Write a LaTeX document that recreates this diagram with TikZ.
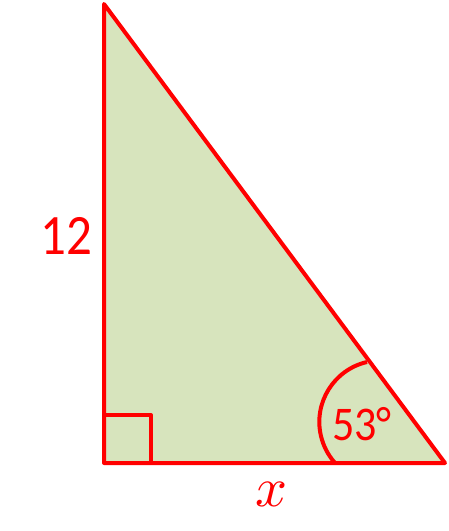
\documentclass[tikz,border=0pt]{standalone}
\usepackage{fontspec}
\setmainfont{Carlito}
\definecolor{trifill}{RGB}{215,228,189}
\definecolor{trired}{RGB}{255,0,0}
\tikzset{
  edge/.style={draw=trired, line width=4pt, line join=round},
  lbl/.style={text=trired, inner sep=0pt},
}
\begin{document}
\begin{tikzpicture}[x=1pt,y=-1pt]
\useasboundingbox (0,0) rectangle (449,531);
\coordinate (A) at (104,4);
\coordinate (B) at (104,463);
\coordinate (C) at (445,463);
\fill[trifill] (A) -- (B) -- (C) -- cycle;
\draw[edge] (104,415) -- (151,415) -- (151,463);
\draw[edge] (367,362) arc[start angle=103, end angle=222, radius=61.5pt];
\draw[edge] (A) -- (B) -- (C) -- cycle;
\node[lbl, font=\fontsize{51}{51}\selectfont] (n12) at (66,236) {\scalebox{1}[1.12]{12}};
\node[lbl, font=\fontsize{44}{44}\selectfont] (ang) at (362,424) {\scalebox{1}[1.1]{53°}};
\node[lbl] (x) at (272,494) {\scalebox{5.6}{$x$}};
\end{tikzpicture}
\end{document}
